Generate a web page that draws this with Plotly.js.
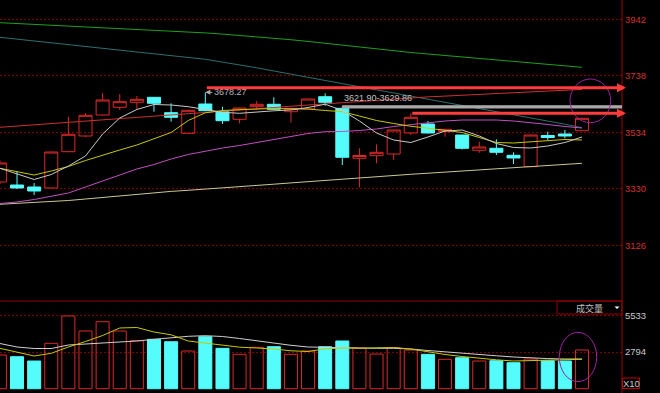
<!DOCTYPE html>
<html><head><meta charset="utf-8">
<script src="https://cdn.plot.ly/plotly-3.0.1.min.js"></script>
<style>html,body{margin:0;padding:0;background:#000;}#chart{width:660px;height:393px;}</style>
</head><body><div id="chart"></div>
<script>
// ---- data ----
const days = [0,1,2,3,4,5,6,7,8,9,10,11,12,13,14,15,16,17,18,19,20,21,22,23,24,25,26,27,28,29,30,31,32,33,34];
const openP  = [3354.4,3343.6,3336.4,3332.8,3463.9,3520.6,3596.5,3624.3,3642.4,3660.4,3604.8,3530.4,3636.2,3608.4,3581.0,3626.5,3635.2,3608.4,3618.2,3662.6,3620.7,3440.1,3449.5,3455.6,3531.5,3564.0,3536.2,3524.2,3469.0,3476.2,3450.9,3409.7,3522.4,3527.9,3539.8];
const highP  = [3433.9,3394.2,3350.8,3464.6,3590.4,3602.6,3676.0,3672.0,3665.1,3661.0,3638.8,3614.0,3678.27,3626.5,3623.0,3647.1,3660.4,3622.0,3655.0,3674.9,3621.90,3476.2,3490.6,3543.0,3602.6,3574.8,3546.0,3525.0,3500.0,3508.7,3461.7,3525.0,3536.2,3542.3,3585.0];
const lowP   = [3347.2,3329.2,3307.5,3331.0,3462.0,3517.0,3595.0,3614.6,3616.4,3608.4,3572.3,3530.0,3610.0,3564.0,3566.5,3614.6,3616.0,3568.7,3617.0,3629.86,3415.9,3334.6,3422.0,3433.9,3524.2,3530.0,3518.1,3471.9,3460.3,3452.0,3419.5,3409.0,3506.2,3512.3,3539.0];
const closeP = [3423.1,3332.8,3321.9,3462.8,3526.8,3595.4,3650.7,3644.6,3653.2,3638.8,3588.2,3613.5,3612.0,3575.9,3621.8,3635.2,3617.1,3620.7,3654.3,3642.4,3443.7,3450.2,3461.7,3542.3,3588.2,3531.5,3544.8,3476.2,3480.9,3461.7,3441.2,3524.2,3515.2,3520.6,3584.6];

const ma5   = [3403.9,3383.3,3363.5,3381.5,3412.2,3448.4,3527.9,3585.7,3616.4,3634.4,3632.6,3626.5,3616.4,3606.3,3602.6,3608.4,3611.7,3614.6,3623.6,3635.5,3612.8,3574.8,3531.5,3506.2,3497.1,3517.0,3538.7,3542.3,3520.6,3493.5,3479.1,3477.3,3484.5,3497.1,3517.0];
const ma10  = [3403.9,3390.6,3379.7,3394.2,3410.4,3432.1,3452.0,3470.1,3488.1,3509.8,3533.3,3576.6,3604.4,3612.8,3616.4,3618.2,3620.0,3620.0,3618.2,3612.8,3608.4,3592.9,3576.6,3565.8,3555.7,3548.8,3540.5,3533.3,3515.2,3497.1,3495.3,3500.0,3505.1,3508.0,3506.2];
const ma20  = [3276.8,3282.2,3291.2,3302.1,3314.7,3336.4,3358.1,3379.7,3401.4,3417.7,3437.5,3453.8,3466.4,3477.3,3486.3,3497.1,3508.0,3519.5,3529.7,3536.2,3536.9,3540.5,3545.9,3555.0,3562.2,3569.4,3574.8,3578.4,3579.5,3578.4,3574.8,3569.4,3562.2,3555.0,3549.5];
const ma60  = [3552.1,3556.4,3561.1,3565.4,3570.1,3574.5,3578.8,3583.5,3587.8,3592.5,3596.9,3601.2,3605.9,3610.2,3614.9,3619.3,3623.6,3628.3,3632.6,3637.3,3641.7,3646.4,3650.7,3655.0,3658.6,3661.9,3664.8,3667.7,3670.9,3673.8,3677.1,3680.0,3682.8,3686.1,3689.0];
const ma120 = [3877.2,3870.7,3864.2,3857.7,3851.2,3844.7,3838.2,3831.3,3824.8,3819.4,3812.5,3805.3,3797.7,3787.6,3777.9,3767.0,3755.5,3743.5,3732.0,3721.1,3709.9,3698.7,3687.5,3676.3,3665.5,3654.3,3643.1,3631.9,3620.7,3609.5,3598.7,3587.5,3576.3,3563.3,3550.6];
const ma250 = [3930.0,3927.1,3924.2,3920.9,3918.0,3915.2,3912.3,3909.0,3906.1,3902.9,3899.6,3896.7,3893.1,3888.8,3884.4,3879.7,3874.3,3868.5,3862.4,3855.5,3848.7,3842.2,3835.3,3828.4,3822.3,3816.9,3811.5,3805.7,3800.3,3794.5,3789.4,3784.4,3778.9,3773.9,3768.8];
const maLong = [3273.9,3277.1,3280.7,3284.0,3287.6,3293.0,3298.8,3304.2,3310.0,3315.4,3320.5,3324.5,3328.4,3332.4,3337.1,3341.8,3346.5,3351.2,3355.9,3360.6,3364.9,3369.3,3374.0,3378.3,3382.3,3386.2,3390.2,3394.2,3398.2,3402.1,3406.1,3410.1,3414.1,3418.0,3422.0];

const volume = [2564,2435,2107,3454,5533,4390,5097,4390,3652,3758,3576,2868,3956,3074,2617,3150,3195,2617,2868,3195,3629,3074,2640,3119,2944,2617,2237,2358,2107,2130,1978,2260,2130,2107,2944];
const volMa5  = [3440,3174,3060,3060,3326,3402,3463,3539,3631,3760,3874,3988,4034,3973,3821,3631,3478,3303,3174,3136,3113,3083,3075,3075,3022,2908,2794,2695,2603,2505,2413,2337,2292,2261,2261];
const volMa10 = [3075,2771,2489,2695,3174,3592,4049,4620,4658,4315,4102,3631,3478,3349,3159,3098,3022,2885,2832,3037,3098,3083,3098,3136,3022,2794,2603,2451,2299,2200,2109,2147,2185,2215,2238];

const priceTicks = [3126,3330,3534,3738,3942];
const volTicks = [2794,5533];
const markHigh = 3678.27;           // labelled high (day 12)
const gapLow = 3621.90, gapHigh = 3629.86;  // gap between day 19 and day 20
const pressureLevel = 3695.0;       // upper drawn arrow line
const supportLevel = 3602.6;        // lower drawn arrow line (day 24 high)

// ---- styles ----
const RED = '#dc2828', CYAN = '#54fcfc', GRID = '#7a0000', AXIS = '#a00000';
const W = 660, H = 393;
const plotRight = 622;               // px
const xRange = [0.006, 36.337];
const fx = px => px / W, fy = py => 1 - py / H;

const isUp = days.map(i => closeP[i] >= openP[i]);

const traces = [
  {type:'candlestick', x:days, open:openP, high:highP, low:lowP, close:closeP,
   xaxis:'x', yaxis:'y', whiskerwidth:0, hoverinfo:'none',
   increasing:{line:{color:RED,width:1}, fillcolor:'rgba(0,0,0,0)'},
   decreasing:{line:{color:CYAN,width:1}, fillcolor:CYAN}},
];
const maDefs = [
  [maLong,'#c8c896'],[ma250,'#1f9f1f'],[ma120,'#2e6e6e'],[ma60,'#cc3030'],
  [ma20,'#c050c0'],[ma10,'#c8c800'],[ma5,'#c8c8c8']
];
maDefs.forEach(([v,c]) => traces.push({type:'scatter', mode:'lines', x:days, y:v, xaxis:'x', yaxis:'y',
  line:{color:c, width:1}, hoverinfo:'none'}));

traces.push({type:'bar', x:days, y:volume, xaxis:'x', yaxis:'y2', width:0.76, hoverinfo:'none',
  marker:{color: isUp.map(u => u ? 'rgba(0,0,0,0)' : CYAN),
          line:{color: isUp.map(u => u ? RED : CYAN), width:1}}});
traces.push({type:'scatter', mode:'lines', x:days, y:volMa5, xaxis:'x', yaxis:'y2', line:{color:'#d0d0d0', width:1}, hoverinfo:'none'});
traces.push({type:'scatter', mode:'lines', x:days, y:volMa10, xaxis:'x', yaxis:'y2', line:{color:'#c8c800', width:1}, hoverinfo:'none'});

const tickFont = {family:'Liberation Sans, Arial, sans-serif', size:9.5, color:'#d03030'};

const layout = {
  width:W, height:H, margin:{l:0,r:0,t:0,b:0,pad:0},
  paper_bgcolor:'#000', plot_bgcolor:'#000', showlegend:false,
  boxgap:0.24, boxgroupgap:0, hovermode:false,
  xaxis:{domain:[0, fx(plotRight)], range:xRange, showgrid:false, zeroline:false, showticklabels:false,
         ticks:'', showline:false, fixedrange:true, rangeslider:{visible:false}},
  yaxis:{domain:[fy(300),1], range:[2928.1,4012.0], side:'right', anchor:'x',
         tickvals:priceTicks, ticktext:priceTicks.map(String), tickfont:tickFont,
         showgrid:true, gridcolor:GRID, griddash:'2px,2px', gridwidth:1, zeroline:false, ticks:'',
         ticklabelstandoff:2, showline:false},
  yaxis2:{domain:[0, fy(301)], range:[-325.6,6673.7], side:'right', anchor:'x',
         tickvals:volTicks, ticktext:volTicks.map(String),
         tickfont:{family:'Liberation Sans, Arial, sans-serif', size:9.5, color:'#c8c8c8'},
         showgrid:true, gridcolor:GRID, griddash:'2px,2px', gridwidth:1, zeroline:false, ticks:'',
         ticklabelstandoff:2, showline:false},
  shapes:[
    {type:'line', xref:'paper', yref:'paper', x0:0, x1:fx(plotRight), y0:fy(301), y1:fy(301), line:{color:'#900000', width:1}},
    {type:'line', xref:'paper', yref:'paper', x0:fx(plotRight), x1:fx(plotRight), y0:0, y1:1, line:{color:AXIS, width:1}},
    {type:'rect', xref:'x', yref:'y', x0:20, x1:xRange[1], y0:gapLow, y1:gapHigh, fillcolor:'#a8a8a8', line:{color:'#a8a8a8', width:1}},
    {type:'rect', xref:'paper', yref:'paper', x0:fx(557), x1:fx(plotRight), y0:fy(314), y1:fy(301), line:{color:'#900000', width:1}},
    {type:'path', xref:'paper', yref:'paper',
     path:`M ${fx(614.5)},${fy(306.5)} L ${fx(619.5)},${fy(306.5)} L ${fx(617)},${fy(309)} Z`, fillcolor:'#ffffff', line:{color:'#ffffff', width:0}},
    {type:'rect', xref:'paper', yref:'paper', x0:fx(622.5), x1:fx(639.5), y0:fy(388.5), y1:fy(378), line:{color:'#c00000', width:1}},
    {type:'circle', xref:'paper', yref:'paper', x0:fx(570), x1:fx(610.7), y0:fy(122.7), y1:fy(79), line:{color:'#a020a0', width:1}},
    {type:'circle', xref:'paper', yref:'paper', x0:fx(559.3), x1:fx(596.7), y0:fy(381.7), y1:fy(332.3), line:{color:'#a020a0', width:1}}
  ],
  annotations:[
    {xref:'x', yref:'y', x:12, y:markHigh, text:markHigh.toFixed(2), showarrow:true, ax:25, ay:0,
     arrowhead:2, arrowsize:1, arrowwidth:1, arrowcolor:'#b0b0b0', standoff:0,
     font:{family:'Liberation Sans, Arial, sans-serif', size:9, color:'#b8b8b8'}},
    {xref:'x', yref:'y', x:20, y:gapHigh, yshift:8, xanchor:'left', yanchor:'middle', showarrow:false,
     text:gapLow.toFixed(2)+'-'+gapHigh.toFixed(2),
     font:{family:'Liberation Sans, Arial, sans-serif', size:9, color:'#c0c0c0'}},
    {xref:'x', yref:'y', axref:'x', ayref:'y', x:36.57, y:pressureLevel, ax:12, ay:pressureLevel,
     text:'', showarrow:true, arrowhead:2, arrowsize:0.6, arrowwidth:3, arrowcolor:'#ff3c3c', standoff:0},
    {xref:'x', yref:'y', axref:'x', ayref:'y', x:36.57, y:supportLevel, ax:24, ay:supportLevel,
     text:'', showarrow:true, arrowhead:2, arrowsize:0.6, arrowwidth:3, arrowcolor:'#ff3c3c', standoff:0},
    {xref:'paper', yref:'paper', x:fx(589), y:fy(308), xanchor:'center', yanchor:'middle', text:'成交量', showarrow:false,
     font:{family:'Noto Sans CJK SC, sans-serif', size:9, color:'#c0c0c0'}},
    {xref:'paper', yref:'paper', x:fx(631), y:fy(383.3), xanchor:'center', yanchor:'middle', text:'X10', showarrow:false,
     font:{family:'Liberation Sans, Arial, sans-serif', size:9.5, color:'#c8c8c8'}}
  ]
};

Plotly.newPlot('chart', traces, layout, {displayModeBar:false, staticPlot:true});
</script>
</body></html>
